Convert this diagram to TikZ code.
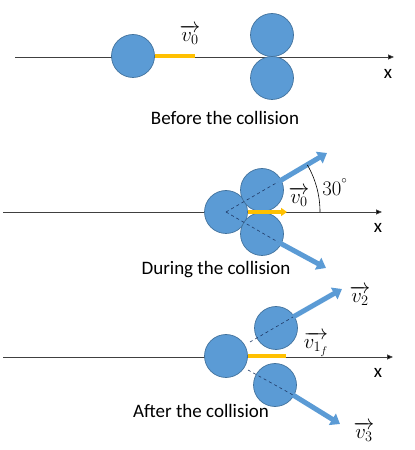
\documentclass[tikz,border=0pt]{standalone}
\usepackage{amsmath}
\usepackage{fontspec}
\setmainfont{Carlito}
\usetikzlibrary{arrows.meta,positioning}
\definecolor{ballfill}{HTML}{5B9BD5}
\definecolor{ballline}{HTML}{41719C}
\definecolor{velo}{HTML}{FFC000}
\definecolor{axisgray}{HTML}{404040}
\definecolor{dashnavy}{HTML}{1F3864}

\begin{document}
\begin{tikzpicture}[x=1pt,y=1pt,
    ball/.style={circle,draw=ballline,fill=ballfill,line width=0.7pt,minimum size=43pt,inner sep=0pt},
    axisline/.style={draw=axisgray,line width=0.8pt,-{Triangle[width=5pt,length=6pt,fill=black]}},
    vel/.style={draw=velo,line width=3.5pt},
    velarrow/.style={vel,-{Triangle[width=8pt,length=6pt]}},
    outarrow/.style={draw=ballfill,line width=5pt,-{Triangle[width=13pt,length=9pt]}},
    guide/.style={draw=dashnavy,dashed,line width=0.6pt},
    lbl/.style={font=\fontsize{19}{22}\selectfont,inner sep=1pt},
    mlbl/.style={font=\fontsize{22}{26}\selectfont,inner sep=1pt}]
    \useasboundingbox (0,0) rectangle (415,450);

    % before
    \path
    (15,393) coordinate (xa1)
    (394,393) coordinate (xb1)
    (195,394) coordinate (v0a)
    ;
    \draw[axisline] (xa1) -- (xb1);
    \node[lbl] at (388,376) {x};
    \node[ball] (b1) at (133,394) {};
    \node[ball] (b2) at (272,415) {};
    \node[ball] (b3) at (272,372) {};
    \draw[vel] (b1.east) -- (v0a);
    \node[mlbl] (lv0a) at (190,415) {$\overrightarrow{v_0}$};
    \node[lbl] (cap1) at (225,332) {Before the collision};

    % during
    \path
    (3,238) coordinate (xa2)
    (382,238) coordinate (xb2)
    (278,268) coordinate (up2s)
    (327,297) coordinate (up2e)
    (278,208) coordinate (dn2s)
    (326,182) coordinate (dn2e)
    (287,238) coordinate (v0b)
    ;
    \draw[axisline] (xa2) -- (xb2);
    \node[lbl] at (378,222) {x};
    \node[ball] (c1) at (226,238) {};
    \node[ball] (c3) at (262,216) {};
    \node[ball] (c2) at (262,260) {};
    \draw[outarrow] (up2s) -- (up2e);
    \draw[outarrow] (dn2s) -- (dn2e);
    \draw[guide] (c1.center) -- (up2s);
    \draw[guide] (c1.center) -- (dn2s);
    \draw[velarrow] (c1.east) -- (v0b);
    \draw[line width=0.6pt] (c1.center) ++(94,0) arc (0:30:94);
    \node[mlbl] (lv0b) at (299,253) {$\overrightarrow{v_0}$};
    \node[mlbl] (ang) at (335,263) {$30^{^\circ}$};
    \node[lbl] (cap2) at (216,180) {During the collision};

    % after
    \path
    (3,93) coordinate (xa3)
    (393,93) coordinate (xb3)
    (250,108) coordinate (up3d)
    (293,133) coordinate (up3s)
    (342,161) coordinate (up3e)
    (248,80) coordinate (dn3d)
    (293,55) coordinate (dn3s)
    (340,26) coordinate (dn3e)
    (286,94) coordinate (v1a)
    ;
    \draw[axisline] (xa3) -- (xb3);
    \node[lbl] at (378,77) {x};
    \node[ball] (d1) at (226,94) {};
    \node[ball] (d2) at (276,122) {};
    \node[ball] (d3) at (275,65) {};
    \draw[outarrow] (up3s) -- (up3e);
    \draw[outarrow] (dn3s) -- (dn3e);
    \draw[guide] (up3d) -- (up3s);
    \draw[guide] (dn3d) -- (dn3s);
    \draw[vel] (d1.east) -- (v1a);
    \node[mlbl] (lv2) at (360,154) {$\overrightarrow{v_2}$};
    \node[mlbl] (lv1f) at (316,106) {$\overrightarrow{v_{1_f}}$};
    \node[mlbl] (lv3) at (364,18) {$\overrightarrow{v_3}$};
    \node[lbl] (cap3) at (201,39) {After the collision};
\end{tikzpicture}
\end{document}
